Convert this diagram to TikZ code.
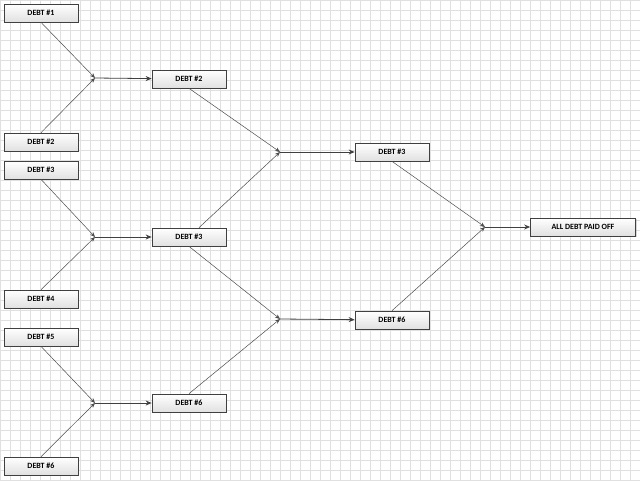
\documentclass[tikz,border=0pt]{standalone}
\usepackage{fontspec}
\setmainfont{Carlito}
\usetikzlibrary{arrows.meta,shadows}
\begin{document}
\begin{tikzpicture}[x=1pt,y=-1pt,
  box/.style={draw=black!75,line width=0.7pt,minimum height=18pt,inner sep=1pt,
    top color=white,bottom color=black!12,font=\bfseries\fontsize{8}{9}\selectfont,
    drop shadow={shadow xshift=1pt,shadow yshift=-1pt,opacity=0.3}},
  small/.style={box,minimum width=74pt},
  con/.style={draw=black!70,line width=0.5pt,-{Stealth[length=5pt,width=4pt]}},
  ar/.style={draw=black!75,line width=0.8pt,-{Stealth[length=6pt,width=5pt]}}]
\useasboundingbox (0,0) rectangle (640,480);
\fill[white] (0,0) rectangle (640,480);
\draw[black!12,line width=0.4pt,step=10pt] (0,0) grid (640,480);
\node[small] (a1) at (41,13) {DEBT \#1};
\node[small] (a2) at (41,142) {DEBT \#2};
\node[small] (a3) at (41,170) {DEBT \#3};
\node[small] (a4) at (41,299) {DEBT \#4};
\node[small] (a5) at (41,337) {DEBT \#5};
\node[small] (a6) at (41,466) {DEBT \#6};
\coordinate (j1) at (95,78);
\coordinate (j2) at (95,237);
\coordinate (j3) at (95,403);
\node[small] (b2) at (189,79) {DEBT \#2};
\node[small] (b3) at (189,237) {DEBT \#3};
\node[small] (b6) at (189,403) {DEBT \#6};
\coordinate (k1) at (280,152);
\coordinate (k2) at (280,319);
\node[small] (c3) at (392,152) {DEBT \#3};
\node[small] (c6) at (392,320) {DEBT \#6};
\coordinate (m) at (485,227);
\node[box,minimum width=105pt] (f) at (583,227) {ALL DEBT PAID OFF};
\draw[con] (a1.south) -- (j1);
\draw[con] (a2.north) -- (j1);
\draw[con] (a3.south) -- (j2);
\draw[con] (a4.north) -- (j2);
\draw[con] (a5.south) -- (j3);
\draw[con] (a6.north) -- (j3);
\draw[ar] (j1) -- (b2);
\draw[ar] (j2) -- (b3);
\draw[ar] (j3) -- (b6);
\draw[con] (b2.south) -- (k1);
\draw[con] ([xshift=10pt]b3.north) -- (k1);
\draw[con] (b3.south) -- (k2);
\draw[con] (b6.north) -- (k2);
\draw[ar] (k1) -- (c3);
\draw[ar] (k2) -- (c6);
\draw[con] (c3.south) -- (m);
\draw[con] (c6.north) -- (m);
\draw[ar] (m) -- (f);
\end{tikzpicture}
\end{document}
